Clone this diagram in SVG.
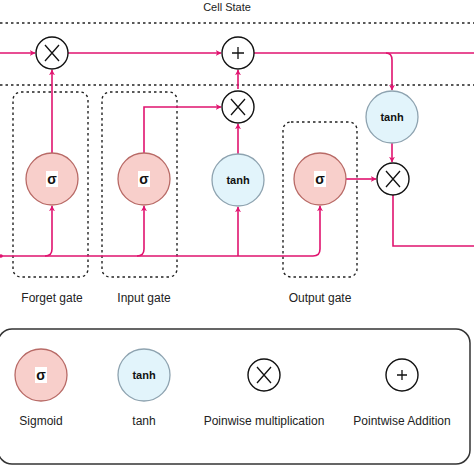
<svg xmlns="http://www.w3.org/2000/svg" width="474" height="474" viewBox="0 0 474 474">
<defs>
<marker id="ah" viewBox="0 0 10 10" refX="9" refY="5" markerWidth="6" markerHeight="6" orient="auto" markerUnits="userSpaceOnUse">
<path d="M0,0 L10,5 L0,10 L3,5 Z" fill="#e0136f"/>
</marker>
<style>
.t{font-family:"Liberation Sans",Arial,sans-serif;font-size:12px;fill:#222;text-anchor:middle}
.b{font-family:"Liberation Sans",Arial,sans-serif;font-size:11px;font-weight:bold;fill:#111;text-anchor:middle}
.s{font-family:"Liberation Sans",Arial,sans-serif;font-size:14px;font-weight:bold;fill:#111;text-anchor:middle}
.sig{fill:#f8cfcb;stroke:#b86a66;stroke-width:1.3}
.tanh{fill:#e2f4fb;stroke:#8ea3b0;stroke-width:1.3}
.op{fill:#fff;stroke:#111;stroke-width:1.4}
.opl{fill:none;stroke:#111;stroke-width:1.3}
.dash{fill:none;stroke:#222;stroke-width:1.4;stroke-dasharray:2.5 3}
.c{fill:none;stroke:#e0136f;stroke-width:1.6}
.bg{fill:#fff}
</style>
</defs>
<rect width="474" height="474" fill="#fff"/>
<text class="t" x="227" y="11" style="font-size:11px">Cell State</text>
<line class="dash" x1="0" y1="23" x2="474" y2="23"/>
<line class="dash" x1="0" y1="85" x2="474" y2="85"/>
<g id="forget-box"><rect class="dash" x="13" y="92" width="75" height="185" rx="8"/><text class="t" x="52" y="302">Forget gate</text></g>
<g id="input-box"><rect class="dash" x="102" y="92" width="75" height="185" rx="8"/><text class="t" x="144" y="302">Input gate</text></g>
<g id="output-box"><rect class="dash" x="283" y="122" width="74" height="155" rx="8"/><text class="t" x="320" y="302">Output gate</text></g>
<g id="connectors">
<path class="c" d="M0,53 H35" marker-end="url(#ah)"/>
<path class="c" d="M68,53 H221" marker-end="url(#ah)"/>
<path class="c" d="M254,53 H474"/>
<path class="c" d="M386,53 Q392,53 392,60 V90" marker-end="url(#ah)"/>
<path class="c" d="M52,153 V70" marker-end="url(#ah)"/>
<path class="c" d="M144,153 V107 H221" marker-end="url(#ah)"/>
<path class="c" d="M238,154 V124" marker-end="url(#ah)"/>
<path class="c" d="M238,89 V70" marker-end="url(#ah)"/>
<path class="c" d="M392,143 V162" marker-end="url(#ah)"/>
<path class="c" d="M346,179 H376" marker-end="url(#ah)"/>
<path class="c" d="M393,195 V246 H474"/>
<path class="c" d="M0,256 H313 Q320,256 320,249 V206" marker-end="url(#ah)"/>
<path class="c" d="M45,256 Q52,256 52,249 V206" marker-end="url(#ah)"/>
<path class="c" d="M137,256 Q144,256 144,249 V206" marker-end="url(#ah)"/>
<path class="c" d="M238,256 V207" marker-end="url(#ah)"/>
<circle cx="1" cy="256" r="1.8" fill="#e0136f"/>
</g>
<g id="mul-forget"><circle class="op" cx="52" cy="53" r="16"/><path class="opl" d="M45,45 L59,61 M59,45 L45,61"/></g>
<g id="add-cell"><circle class="op" cx="238" cy="53" r="16"/><path class="opl" d="M238,47 V59 M232,53 H244"/></g>
<g id="mul-input"><circle class="op" cx="238" cy="107" r="16"/><path class="opl" d="M231,99 L245,115 M245,99 L231,115"/></g>
<g id="sig-forget"><circle class="sig" cx="52" cy="179" r="26"/><rect class="bg" x="46" y="171" width="12" height="16"/><text class="s" x="52" y="184">σ</text></g>
<g id="sig-input"><circle class="sig" cx="144" cy="179" r="26"/><rect class="bg" x="138" y="171" width="12" height="16"/><text class="s" x="144" y="184">σ</text></g>
<g id="tanh-input"><circle class="tanh" cx="238" cy="180" r="26"/><text class="b" x="238" y="184">tanh</text></g>
<g id="sig-output"><circle class="sig" cx="320" cy="179" r="26"/><rect class="bg" x="314" y="171" width="12" height="16"/><text class="s" x="320" y="184">σ</text></g>
<g id="tanh-cell"><circle class="tanh" cx="392" cy="117" r="26"/><text class="b" x="392" y="121">tanh</text></g>
<g id="mul-output"><circle class="op" cx="393" cy="179" r="16"/><path class="opl" d="M386,171 L400,187 M400,171 L386,187"/></g>
<g id="legend">
<rect x="-2" y="329" width="472" height="135" rx="14" fill="none" stroke="#333" stroke-width="1.5"/>
<circle class="sig" cx="41" cy="375" r="26"/><rect class="bg" x="35" y="367" width="12" height="16"/><text class="s" x="41" y="380">σ</text>
<text class="t" x="41" y="425">Sigmoid</text>
<circle class="tanh" cx="144" cy="375" r="26"/><text class="b" x="144" y="379">tanh</text>
<text class="t" x="144" y="425">tanh</text>
<circle class="op" cx="264" cy="375" r="16"/><path class="opl" d="M257,367 L271,383 M271,367 L257,383"/>
<text class="t" x="264" y="425">Poinwise multiplication</text>
<circle class="op" cx="402" cy="375" r="16"/><path class="opl" d="M402,370 V380 M397,375 H407"/>
<text class="t" x="402" y="425">Pointwise Addition</text>
</g>
</svg>
